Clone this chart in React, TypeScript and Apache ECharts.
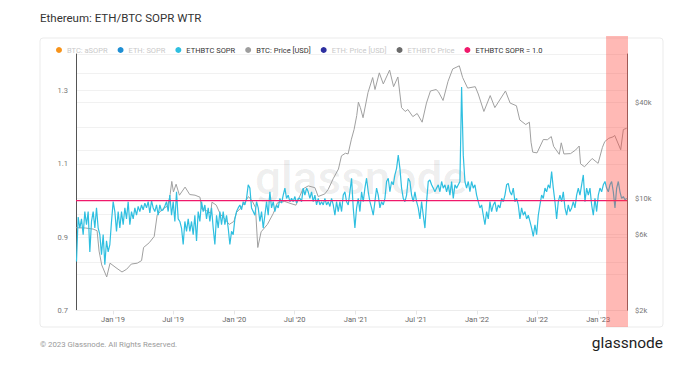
import React, { useEffect, useRef } from 'react';
import * as echarts from 'echarts';

const TITLE = 'Ethereum: ETH/BTC SOPR WTR';
const FOOTER = '© 2023 Glassnode. All Rights Reserved.';
const BRAND = 'glassnode';

const LEGEND_NAMES = ['BTC: aSOPR', 'ETH: SOPR', 'ETHBTC SOPR', 'BTC: Price [USD]', 'ETH: Price [USD]', 'ETHBTC Price', 'ETHBTC SOPR = 1.0'];
const LEGEND_COLORS = ['#f7931a', '#1f8fd4', '#2fbfe0', '#9e9e9e', '#2d2fa0', '#6b6b6b', '#f0196b'];
const LEGEND_ACTIVE = [false, false, true, true, false, false, true];

const X_MIN = '2018-09-11';
const X_MAX = '2023-03-29';
const X_TICKS = ['2019-01-01', '2019-07-01', '2020-01-01', '2020-07-01', '2021-01-01', '2021-07-01', '2022-01-01', '2022-07-01', '2023-01-01'];
const HIGHLIGHT_START = '2023-01-25';

const SOPR_MIN = 0.7;
const SOPR_MAX = 1.4;
const SOPR_LABELS = [0.7, 0.9, 1.1, 1.3];
const SOPR_BASELINE = 1.0;

const PRICE_MIN = 2000;
const PRICE_MAX = 80000;
const PRICE_LABELS = [2000, 6000, 10000, 40000];
const PRICE_GRID = [4000, 6000, 8000, 10000, 20000, 40000, 60000];

// ETHBTC SOPR, sampled every ~5 days from the start date
const SOPR_START = '2018-09-13';
const SOPR_STEP_DAYS = 5.021;
const SOPR_VALUES = [
  0.834, 0.955, 0.925, 0.95, 0.907, 0.97, 0.934, 0.97, 0.86, 0.943, 0.97, 0.925, 0.98, 0.925, 0.907, 0.852, 0.907, 0.825, 0.89, 0.86,
  0.88, 0.943, 0.997, 0.97, 0.916, 0.97, 0.925, 0.97, 0.934, 0.98, 0.95, 0.997, 0.934, 0.97, 0.95, 0.98, 0.96, 0.984, 0.97, 0.988,
  0.975, 0.993, 0.98, 0.997, 0.966, 1.0, 0.98, 0.97, 0.988, 0.96, 0.988, 0.972, 0.975, 0.985, 0.997, 0.97, 1.015, 0.96, 0.997, 0.943,
  1.024, 0.95, 0.943, 0.925, 0.88, 0.943, 0.916, 0.95, 0.916, 0.943, 0.907, 0.96, 0.89, 0.97, 0.943, 0.997, 0.97, 0.988, 0.95, 0.98,
  0.943, 0.98, 0.925, 0.88, 0.96, 0.925, 0.97, 0.934, 0.97, 0.934, 0.96, 0.925, 0.88, 0.916, 0.907, 0.95, 0.97, 0.98, 0.988, 0.975,
  0.997, 0.988, 1.006, 1.043, 1.034,
  0.98, 0.97, 0.96, 0.997, 0.98, 0.943, 0.97, 0.925, 0.96, 0.997, 0.96, 1.024, 0.98, 0.997, 0.97, 0.988, 0.98, 1.006, 0.993, 1.015,
  1.034, 1.006, 1.015, 0.997, 1.006, 0.997, 1.011, 0.993, 1.006, 1.006, 0.997, 1.034, 1.015, 1.034, 1.024, 1.006, 1.024, 0.997, 1.015, 0.988,
  1.006, 0.988, 0.997, 0.988, 1.006, 0.988, 0.997, 0.984, 1.006, 0.988, 0.96, 0.997, 0.97, 0.997, 0.97, 1.015, 1.024, 0.997, 0.988, 1.024,
  1.061, 0.98, 0.925, 0.98, 1.006, 0.97, 1.024, 0.997, 1.034, 1.061, 1.024, 0.997, 0.98, 0.96, 0.997, 1.034, 1.015, 0.98, 0.997, 0.988,
  1.006, 1.052, 1.061, 1.024, 1.052, 1.043, 1.07, 1.088, 1.124, 1.088, 1.034, 1.006, 0.997, 1.015, 1.061, 1.052, 1.015, 0.997, 1.024, 0.997,
  0.98, 0.95, 0.997, 0.96, 0.925, 0.997, 1.052, 1.056, 1.043, 1.034, 1.024,
  1.034, 1.043, 1.024, 1.052, 1.034, 1.043, 1.024, 1.043, 1.015, 1.052, 1.006, 1.043, 1.034, 1.043, 1.052, 1.31, 1.124, 1.052, 1.034, 1.052,
  1.024, 1.052, 1.034, 1.043, 1.015, 0.997, 0.98, 0.988, 0.96, 0.934, 0.97, 0.95, 0.997, 0.97, 0.988, 0.997, 0.97, 0.988, 0.98, 1.006,
  0.997, 1.015, 1.043, 1.047, 1.024, 1.015, 1.034, 0.997, 1.006, 0.988, 0.95, 0.98, 0.96, 0.97, 0.95, 0.96, 0.943, 0.925, 0.902, 0.934,
  0.907, 0.96, 0.988, 1.015, 1.006, 1.034, 1.024, 1.043, 1.034, 1.079, 1.034, 0.997, 0.95, 0.997, 1.015, 0.997, 1.024, 0.98, 0.96, 0.988,
  0.97, 0.98, 0.997, 0.98, 1.015, 1.034, 1.015, 1.043, 1.07, 0.997, 1.034, 1.015, 1.034, 0.988, 0.96, 1.006, 0.97, 1.015, 1.034, 1.024,
  1.043, 1.052, 1.034, 1.024, 1.043, 1.052, 1.024, 0.98, 1.034, 1.052, 1.024, 1.006, 1.011, 1.002, 1.006,
];

// BTC price [USD]
const PRICE_DATES = [
  '2018-09-11', '2018-10-10', '2018-11-02', '2018-11-14', '2018-11-20', '2018-11-28', '2018-12-13', '2018-12-23', '2019-01-10', '2019-01-28',
  '2019-02-11', '2019-02-25', '2019-03-15', '2019-03-28', '2019-04-03', '2019-04-20', '2019-05-05', '2019-05-14', '2019-05-30', '2019-06-15',
  '2019-06-22', '2019-06-27', '2019-07-02', '2019-07-10', '2019-07-20', '2019-08-06', '2019-08-20', '2019-09-05', '2019-09-20', '2019-09-25',
  '2019-10-10', '2019-10-22', '2019-10-26', '2019-11-08', '2019-11-20', '2019-12-05', '2019-12-17', '2019-12-31', '2020-01-08', '2020-01-20',
  '2020-02-01', '2020-02-13', '2020-02-25', '2020-03-05', '2020-03-12', '2020-03-22', '2020-04-10', '2020-04-28', '2020-05-10', '2020-06-01',
  '2020-06-20', '2020-07-05', '2020-07-26', '2020-08-11', '2020-08-31', '2020-09-10', '2020-09-30', '2020-10-10', '2020-10-25', '2020-11-10',
  '2020-11-19', '2020-12-01', '2020-12-09', '2020-12-19', '2020-12-27', '2021-01-04', '2021-01-09', '2021-01-15', '2021-01-23', '2021-02-07',
  '2021-02-21', '2021-02-28', '2021-03-13', '2021-03-25', '2021-04-13', '2021-04-25', '2021-05-08', '2021-05-19', '2021-05-30', '2021-06-07',
  '2021-06-22', '2021-07-05', '2021-07-20', '2021-08-02', '2021-08-14', '2021-08-31', '2021-09-07', '2021-09-21', '2021-10-06', '2021-10-20',
  '2021-11-09', '2021-11-19', '2021-12-04', '2021-12-27', '2022-01-05', '2022-01-22', '2022-02-10', '2022-02-24', '2022-03-28', '2022-04-11',
  '2022-04-30', '2022-05-10', '2022-05-28', '2022-06-08', '2022-06-13', '2022-06-18', '2022-07-01', '2022-07-20', '2022-08-01', '2022-08-13',
  '2022-08-20', '2022-09-06', '2022-09-12', '2022-09-20', '2022-10-10', '2022-10-25', '2022-11-05', '2022-11-09', '2022-11-21', '2022-12-14',
  '2023-01-01', '2023-01-14', '2023-01-21', '2023-02-02', '2023-02-15', '2023-02-20', '2023-03-10', '2023-03-18', '2023-03-28',
];
const PRICE_VALUES = [
  6580, 6550, 6450, 6300, 4700, 3850, 3240, 3950, 3700, 3480,
  3620, 3900, 3950, 4100, 4950, 5300, 5800, 7900, 8600, 9000,
  10600, 12800, 11000, 12300, 10500, 11800, 10600, 10500, 10200, 8600,
  8400, 8100, 9500, 9100, 8000, 7400, 6900, 7200, 8200, 8700,
  9400, 10300, 9600, 8800, 4950, 6200, 6900, 8100, 9400, 9600,
  9300, 9100, 11500, 12000, 11700, 10300, 10700, 11400, 13300, 15300,
  18500, 19200, 19000, 23500, 27000, 33000, 40000, 37000, 32000, 46000,
  57000, 48000, 61000, 52000, 63500, 50000, 57500, 37000, 35000, 36000,
  32500, 34000, 30000, 39500, 47000, 48000, 46500, 41000, 54000, 64500,
  67500, 57000, 49000, 50000, 45000, 35000, 44000, 37000, 47000, 39500,
  38000, 31000, 29000, 30000, 22500, 19500, 19300, 23400, 23300, 24400,
  21200, 18900, 22300, 19000, 19100, 20100, 21300, 16500, 15800, 17800,
  16600, 20900, 22700, 23800, 24300, 24800, 20200, 27000, 27500,
];

const FONT = 'Roboto, "Noto Sans", sans-serif';
const MONTHS = ['Jan', 'Feb', 'Mar', 'Apr', 'May', 'Jun', 'Jul', 'Aug', 'Sep', 'Oct', 'Nov', 'Dec'];
const ts = (s: string) => new Date(s + 'T00:00:00Z').getTime();
const DAY = 86400000;

export default function App() {
  const ref = useRef<HTMLDivElement>(null);
  useEffect(() => {
    if (!ref.current) return;
    const chart = echarts.init(ref.current, undefined, { renderer: 'svg' });
    const s0 = ts(SOPR_START);
    const soprData = SOPR_VALUES.map((v, i) => [s0 + i * SOPR_STEP_DAYS * DAY, v]);
    const priceData = PRICE_DATES.map((d, i) => [ts(d), Math.log10(PRICE_VALUES[i])]);
    const xMin = ts(X_MIN) + DAY / 2;
    const xMax = ts(X_MAX);

    const emptyIdx = [0, 1, 4, 5];
    const series: any[] = [];
    emptyIdx.forEach((i) => {
      series.push({ name: LEGEND_NAMES[i], type: 'line', data: [], color: LEGEND_COLORS[i], showSymbol: false });
    });
    series.push({
      name: LEGEND_NAMES[3],
      type: 'line',
      yAxisIndex: 1,
      data: priceData,
      showSymbol: false,
      color: LEGEND_COLORS[3],
      lineStyle: { width: 1, color: '#a0a0a0' },
      z: 2,
      markLine: {
        silent: true,
        symbol: 'none',
        label: { show: false },
        lineStyle: { color: '#f1f1f1', width: 1, type: 'solid' },
        data: PRICE_GRID.map((p) => ({ yAxis: Math.log10(p) })),
        z: 0,
      },
    });
    series.push({
      name: LEGEND_NAMES[2],
      type: 'line',
      data: soprData,
      showSymbol: false,
      color: LEGEND_COLORS[2],
      lineStyle: { width: 1.2, color: '#2fbfe0' },
      z: 3,
    });
    series.push({
      name: LEGEND_NAMES[6],
      type: 'line',
      data: [[xMin, SOPR_BASELINE], [xMax, SOPR_BASELINE]],
      showSymbol: false,
      color: LEGEND_COLORS[6],
      lineStyle: { width: 1.3, color: '#f0196b' },
      z: 4,
    });

    const option: any = {
      animation: false,
      backgroundColor: '#ffffff',
      grid: { left: 76, right: 65, top: 54, bottom: 55.5, containLabel: false },
      legend: {
        left: 51,
        top: 41,
        icon: 'circle',
        itemWidth: 6,
        itemHeight: 6,
        itemGap: 10,
        selectedMode: false,
        textStyle: { fontSize: 7.5, fontFamily: FONT },
        data: LEGEND_NAMES.map((n, i) => ({
          name: n,
          itemStyle: { color: LEGEND_COLORS[i] },
          textStyle: { color: LEGEND_ACTIVE[i] ? '#333333' : '#c9c9c9', fontSize: 7.5, fontFamily: FONT },
        })),
      },
      xAxis: {
        type: 'value',
        min: xMin,
        max: xMax,
        axisLine: { show: true, lineStyle: { color: '#ececec' } },
        axisTick: { show: true, length: 4, lineStyle: { color: '#e6e6e6' }, customValues: X_TICKS.map(ts) },
        splitLine: { show: false },
        axisLabel: {
          customValues: X_TICKS.map(ts),
          fontSize: 7.5,
          color: '#666',
          fontFamily: FONT,
          margin: 5,
          formatter: (v: number) => {
            const d = new Date(v);
            return MONTHS[d.getUTCMonth()] + " '" + String(d.getUTCFullYear()).slice(2);
          },
        },
      },
      yAxis: [
        {
          type: 'value',
          min: SOPR_MIN,
          max: SOPR_MAX,
          interval: 0.1,
          axisLine: { show: true, lineStyle: { color: '#555', width: 1 } },
          axisTick: { show: false },
          splitLine: { show: true, lineStyle: { color: '#f1f1f1', width: 1 } },
          axisLabel: {
            customValues: SOPR_LABELS,
            fontSize: 7.5,
            color: '#777',
            fontFamily: FONT,
            margin: 8,
            padding: [0, 0, 6, 0],
            formatter: (v: number) => v.toFixed(1),
          },
        },
        {
          type: 'value',
          position: 'right',
          min: Math.log10(PRICE_MIN),
          max: Math.log10(PRICE_MAX),
          axisLine: { show: true, lineStyle: { color: '#666', width: 1 } },
          axisTick: { show: false },
          splitLine: { show: false },
          axisLabel: {
            customValues: PRICE_LABELS.map((p) => Math.log10(p)),
            fontSize: 7.5,
            color: '#777',
            fontFamily: FONT,
            margin: 8,
            padding: [0, 0, 6, 0],
            formatter: (v: number) => '$' + Math.round(Math.pow(10, v) / 1000) + 'k',
          },
        },
      ],
      series,
    };
    chart.setOption(option);

    const bx1 = chart.convertToPixel({ xAxisIndex: 0 }, ts(HIGHLIGHT_START)) as number;
    const bx2 = (chart.convertToPixel({ xAxisIndex: 0 }, xMax) as number) + 1;

    chart.setOption({
      graphic: [
        {
          type: 'rect',
          silent: true,
          z: -10,
          shape: { x: 40, y: 38, width: 623, height: 289, r: 3 },
          style: { fill: '#ffffff', stroke: '#ebebeb', lineWidth: 1 },
        },
        {
          type: 'text',
          silent: true,
          z: 0,
          x: 361,
          y: 178,
          style: {
            text: BRAND,
            font: '500 46px ' + FONT,
            fill: 'rgba(0,0,0,0.07)',
            textAlign: 'center',
            textVerticalAlign: 'middle',
          },
        },
        {
          type: 'text',
          x: 40,
          y: 18,
          style: { text: TITLE, font: '11.5px ' + FONT, fill: '#333', textVerticalAlign: 'middle' },
        },
        {
          type: 'text',
          x: 40,
          y: 344,
          style: { text: FOOTER, font: '7.8px ' + FONT, fill: '#9a9a9a', textVerticalAlign: 'middle' },
        },
        {
          type: 'text',
          x: 663,
          y: 343,
          style: { text: BRAND, font: '15.5px ' + FONT, fill: '#1e1e1e', textAlign: 'right', textVerticalAlign: 'middle' },
        },
        {
          type: 'rect',
          silent: true,
          z: 100,
          shape: { x: bx1, y: 36, width: bx2 - bx1, height: 291 },
          style: { fill: 'rgba(255, 70, 60, 0.38)' },
        },
      ],
    });

    return () => chart.dispose();
  }, []);
  return <div ref={ref} style={{ position: 'fixed', left: 0, top: 0, width: 692, height: 366 }} />;
}
